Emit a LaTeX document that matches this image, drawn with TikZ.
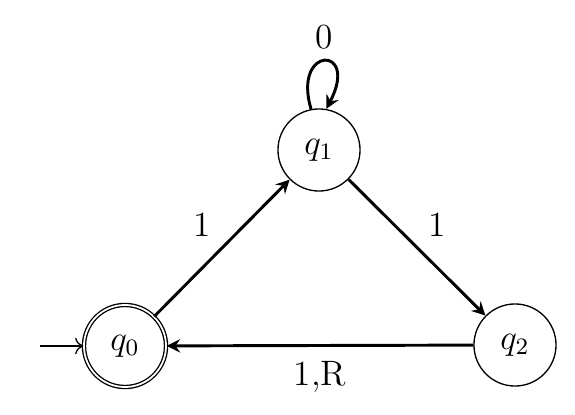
\documentclass[tikz,border=0pt]{standalone}
\usetikzlibrary{arrows.meta}
\begin{document}
\begin{tikzpicture}[x=0.34pt,y=-0.34pt,
  font=\fontsize{12}{14}\selectfont,
  st/.style={circle,draw,line width=0.45pt,minimum size=27.9pt,inner sep=0pt},
  acc/.style={st,double,double distance=0.6pt},
  tr/.style={line width=1pt,-{Stealth[length=4.6pt,width=4.6pt,inset=1.6pt]},auto},
  ini/.style={line width=0.45pt,-{To[length=2.8pt,width=5.6pt]}}]
\useasboundingbox (0,0) rectangle (575,415);
\node[acc] (q0) at (125,346) {$q_0$};
\node[st] (q1) at (319,150) {$q_1$};
\node[st] (q2) at (515,345) {$q_2$};
\coordinate (s) at (40,346);
\draw[ini] (s) -- (q0);
\draw[tr] (q0) -- node {1} (q1);
\draw[tr] (q1) -- node {1} (q2);
\draw[tr] (q2) -- node[inner sep=5pt] {1,R} (q0);
\draw[tr] (q1.101) .. controls (292,45) and (360,45) .. node[above] {0} (q1.80);
\end{tikzpicture}
\end{document}
